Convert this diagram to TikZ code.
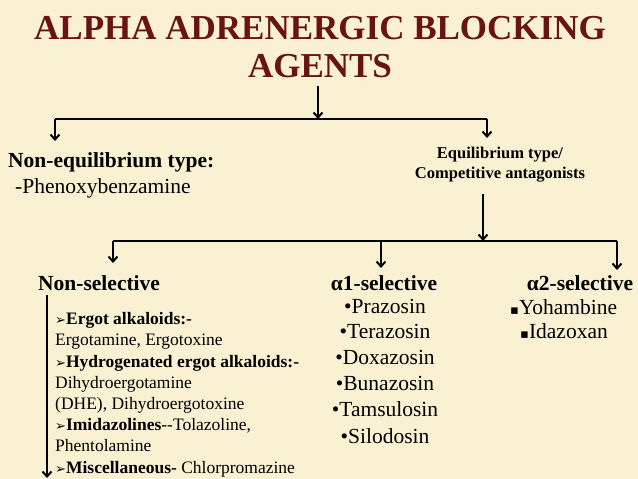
\documentclass[tikz,border=0pt]{standalone}
\usepackage{fontspec}
\usetikzlibrary{arrows.meta}
\setmainfont{Liberation Serif}
\newfontfamily\djfont{DejaVu Sans}
\definecolor{bg}{RGB}{250,240,210}
\definecolor{ttl}{RGB}{105,20,20}
\newcommand{\arw}{{\djfont\fontsize{13}{15}\selectfont ➢}}
\newcommand{\sqb}{{\djfont\fontsize{13}{15}\selectfont ▪}}
\begin{document}
\begin{tikzpicture}[x=1pt,y=-1pt,
 ar/.style={line width=2pt,-{Straight Barb[length=5pt,width=9pt]}},
 ln/.style={line width=2pt},
 hd/.style={font=\bfseries\fontsize{21.5}{24}\selectfont,inner sep=0},
 it/.style={font=\fontsize{17.5}{19}\selectfont,inner sep=0,anchor=base west},
 sel/.style={font=\fontsize{21.5}{24}\selectfont,inner sep=0,anchor=base}]
\fill[bg] (0,0) rectangle (638,479);
\useasboundingbox (0,0) rectangle (638,479);
\node[font=\bfseries\fontsize{35}{38}\selectfont,text=ttl,align=center,inner sep=0] (t) at (320,47) {ALPHA ADRENERGIC BLOCKING\\AGENTS};
\coordinate (tb) at (318,86);
\coordinate (j1) at (318,119);
\coordinate (l1) at (55,119);
\coordinate (r1) at (487,119);
\node[hd,anchor=base west] (ne) at (8,167) {Non-equilibrium type:};
\node[font=\fontsize{21.5}{24}\selectfont,inner sep=0,anchor=base west] (pb) at (15,193) {-Phenoxybenzamine};
\node[font=\bfseries\fontsize{16.5}{20}\selectfont,align=center,inner sep=0] (eq) at (500,165) {Equilibrium type/\\Competitive antagonists};
\draw[ar] (tb) -- (j1);
\draw[ln] (l1) -- (r1);
\draw[ar] (l1) -- (55,141);
\draw[ar] (r1) -- (487,138);
\coordinate (e1) at (483,194);
\coordinate (j2) at (483,241);
\coordinate (l2) at (113,241);
\coordinate (m2) at (381,241);
\coordinate (r2) at (617,241);
\draw[ar] (e1) -- (j2);
\draw[ln] (l2) -- (r2);
\draw[ar] (l2) -- (113,263);
\draw[ar] (m2) -- (381,268);
\draw[ar] (r2) -- (617,270);
\node[hd,anchor=base west] (ns) at (38,290) {Non-selective};
\node[hd,anchor=base] (a1) at (384,290) {α1-selective};
\node[hd,anchor=base] (a2) at (580,290) {α2-selective};
\coordinate (v1) at (47,295);
\coordinate (v2) at (47,478);
\draw[ar] (v1) -- (v2);
\node[it] at (55,324) {\arw\textbf{Ergot alkaloids:-}};
\node[it] at (55,345) {Ergotamine, Ergotoxine};
\node[it] at (55,367) {\arw\textbf{Hydrogenated ergot alkaloids:-}};
\node[it] at (55,388) {Dihydroergotamine};
\node[it] at (55,409) {(DHE), Dihydroergotoxine};
\node[it] at (55,430) {\arw\textbf{Imidazolines}-{}-Tolazoline,};
\node[it] at (55,451) {Phentolamine};
\node[it] at (55,473) {\arw\textbf{Miscellaneous-} Chlorpromazine};
\node[sel] at (385,313) {•Prazosin};
\node[sel] at (385,338) {•Terazosin};
\node[sel] at (385,364) {•Doxazosin};
\node[sel] at (385,390) {•Bunazosin};
\node[sel] at (385,416) {•Tamsulosin};
\node[sel] at (385,443) {•Silodosin};
\node[sel,anchor=base west] at (510,314) {\sqb Yohambine};
\node[sel,anchor=base west] at (520,338) {\sqb Idazoxan};
\end{tikzpicture}
\end{document}
